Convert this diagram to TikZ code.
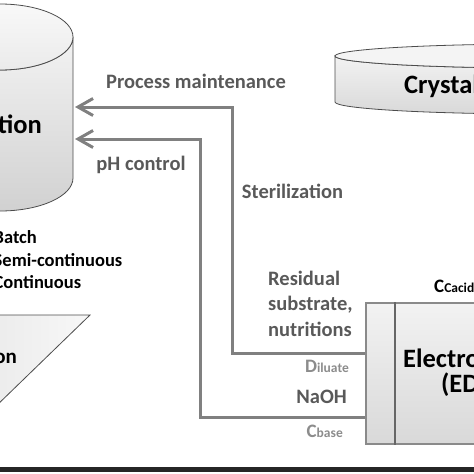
\documentclass[tikz,border=0pt]{standalone}
\usepackage{fontspec}
\setmainfont{Carlito}
\usetikzlibrary{arrows.meta,positioning}
\definecolor{flowgray}{HTML}{808080}
\definecolor{labelgray}{HTML}{595959}
\definecolor{softgray}{HTML}{8C8C8C}
\definecolor{edgegray}{HTML}{8A8A8A}

\begin{document}
\begin{tikzpicture}[x=1pt,y=-1pt,
   flow/.style={draw=flowgray,line width=3pt,-{Straight Barb[length=15pt,width=17pt]}},
   lbl/.style={text=labelgray,inner sep=0pt,font=\fontsize{20.5}{25.5}\selectfont\bfseries},
   sublbl/.style={text=softgray,inner sep=0pt,font=\fontsize{13.5}{15}\selectfont\bfseries},
   title/.style={inner sep=0pt,font=\fontsize{26.5}{28}\selectfont\bfseries},
   vessel/.style={draw=black!70,line width=0.8pt}]
   \useasboundingbox (0,0) rectangle (474,474);
   \clip (0,0) rectangle (474,474);

   % fermenter
   \path[vessel,top color=gray!10,bottom color=gray!36] (-73,37) -- (-73,178)
      arc[start angle=180,end angle=0,x radius=73,y radius=33] -- (73,37)
      arc[start angle=0,end angle=180,x radius=73,y radius=33] -- cycle;
   \path[vessel,top color=gray!5,bottom color=gray!16] (0,37) ellipse[x radius=73,y radius=33];
   \node[title,anchor=base east] (ferm) at (42,133) {Fermentation};
   \node[anchor=base west,align=left,inner sep=0pt,font=\fontsize{18.5}{22.5}\selectfont\bfseries] (modes) at (-6.5,288.5) {Batch\\Semi-continuous\\Continuous};

   % crystallizer
   \path[vessel,top color=gray!10,bottom color=gray!30] (335,56) -- (335,102)
      arc[start angle=180,end angle=0,x radius=205,y radius=12] -- (745,56)
      arc[start angle=0,end angle=180,x radius=205,y radius=12] -- cycle;
   \path[vessel,fill=gray!9] (540,56) ellipse[x radius=205,y radius=12];
   \node[title,anchor=base west] (cryst) at (404,93) {Crystallization};

   % filter
   \path[vessel,left color=gray!30,right color=gray!6] (-170,315) -- (90,315) -- (-40,441) -- cycle;
   \node[title,font=\fontsize{21}{23}\selectfont\bfseries,anchor=base east] (filt) at (17,363) {Filtration};

   % electrodialysis unit
   \node[draw=edgegray,line width=1.5pt,top color=gray!10,bottom color=gray!30,
      minimum width=255pt,minimum height=141pt,anchor=north west,inner sep=0pt] (ed) at (365,302) {};
   \draw[black!60,line width=1.5pt] ([xshift=30pt]ed.north west) -- ([xshift=30pt]ed.south west);
   \node[title,anchor=base west] (edname) at (403,367) {Electrodialysis};
   \node[title,anchor=base west] (edabbr) at (441,392) {(ED)};
   \node[anchor=base west,inner sep=0pt,font=\bfseries] (cacid) at (434,292)
      {{\fontsize{19}{20}\selectfont C}{\fontsize{13.5}{15}\selectfont Cacid}};

   % streams
   \coordinate (dil) at (365,353);
   \coordinate (base) at (365,417);
   \coordinate (fer1) at (75,107);
   \coordinate (fer2) at (75,139);
   \draw[flow] (dil) -- ++(-133,0) |- (fer1);
   \draw[flow] (base) -- ++(-165,0) |- (fer2);

   \node[lbl,anchor=base] (pm) at (196,88.5) {Process maintenance};
   \node[lbl,anchor=base] (ph) at (141,170) {pH control};
   \node[lbl,anchor=base] (ster) at (292.5,198.5) {Sterilization};
   \node[lbl,anchor=base west,align=left] (resid) at (268,336) {Residual\\substrate,\\nutritions};
   \node[sublbl,anchor=base east] (dilt) at (349,372) {{\fontsize{19}{20}\selectfont D}iluate};
   \node[lbl,anchor=base east] (naoh) at (347,403.5) {NaOH};
   \node[sublbl,anchor=base east] (cbase) at (343,437.5) {{\fontsize{19}{20}\selectfont C}base};

   \draw[black!85,line width=5pt] (-2,469) -- (476,469);
\end{tikzpicture}
\end{document}
